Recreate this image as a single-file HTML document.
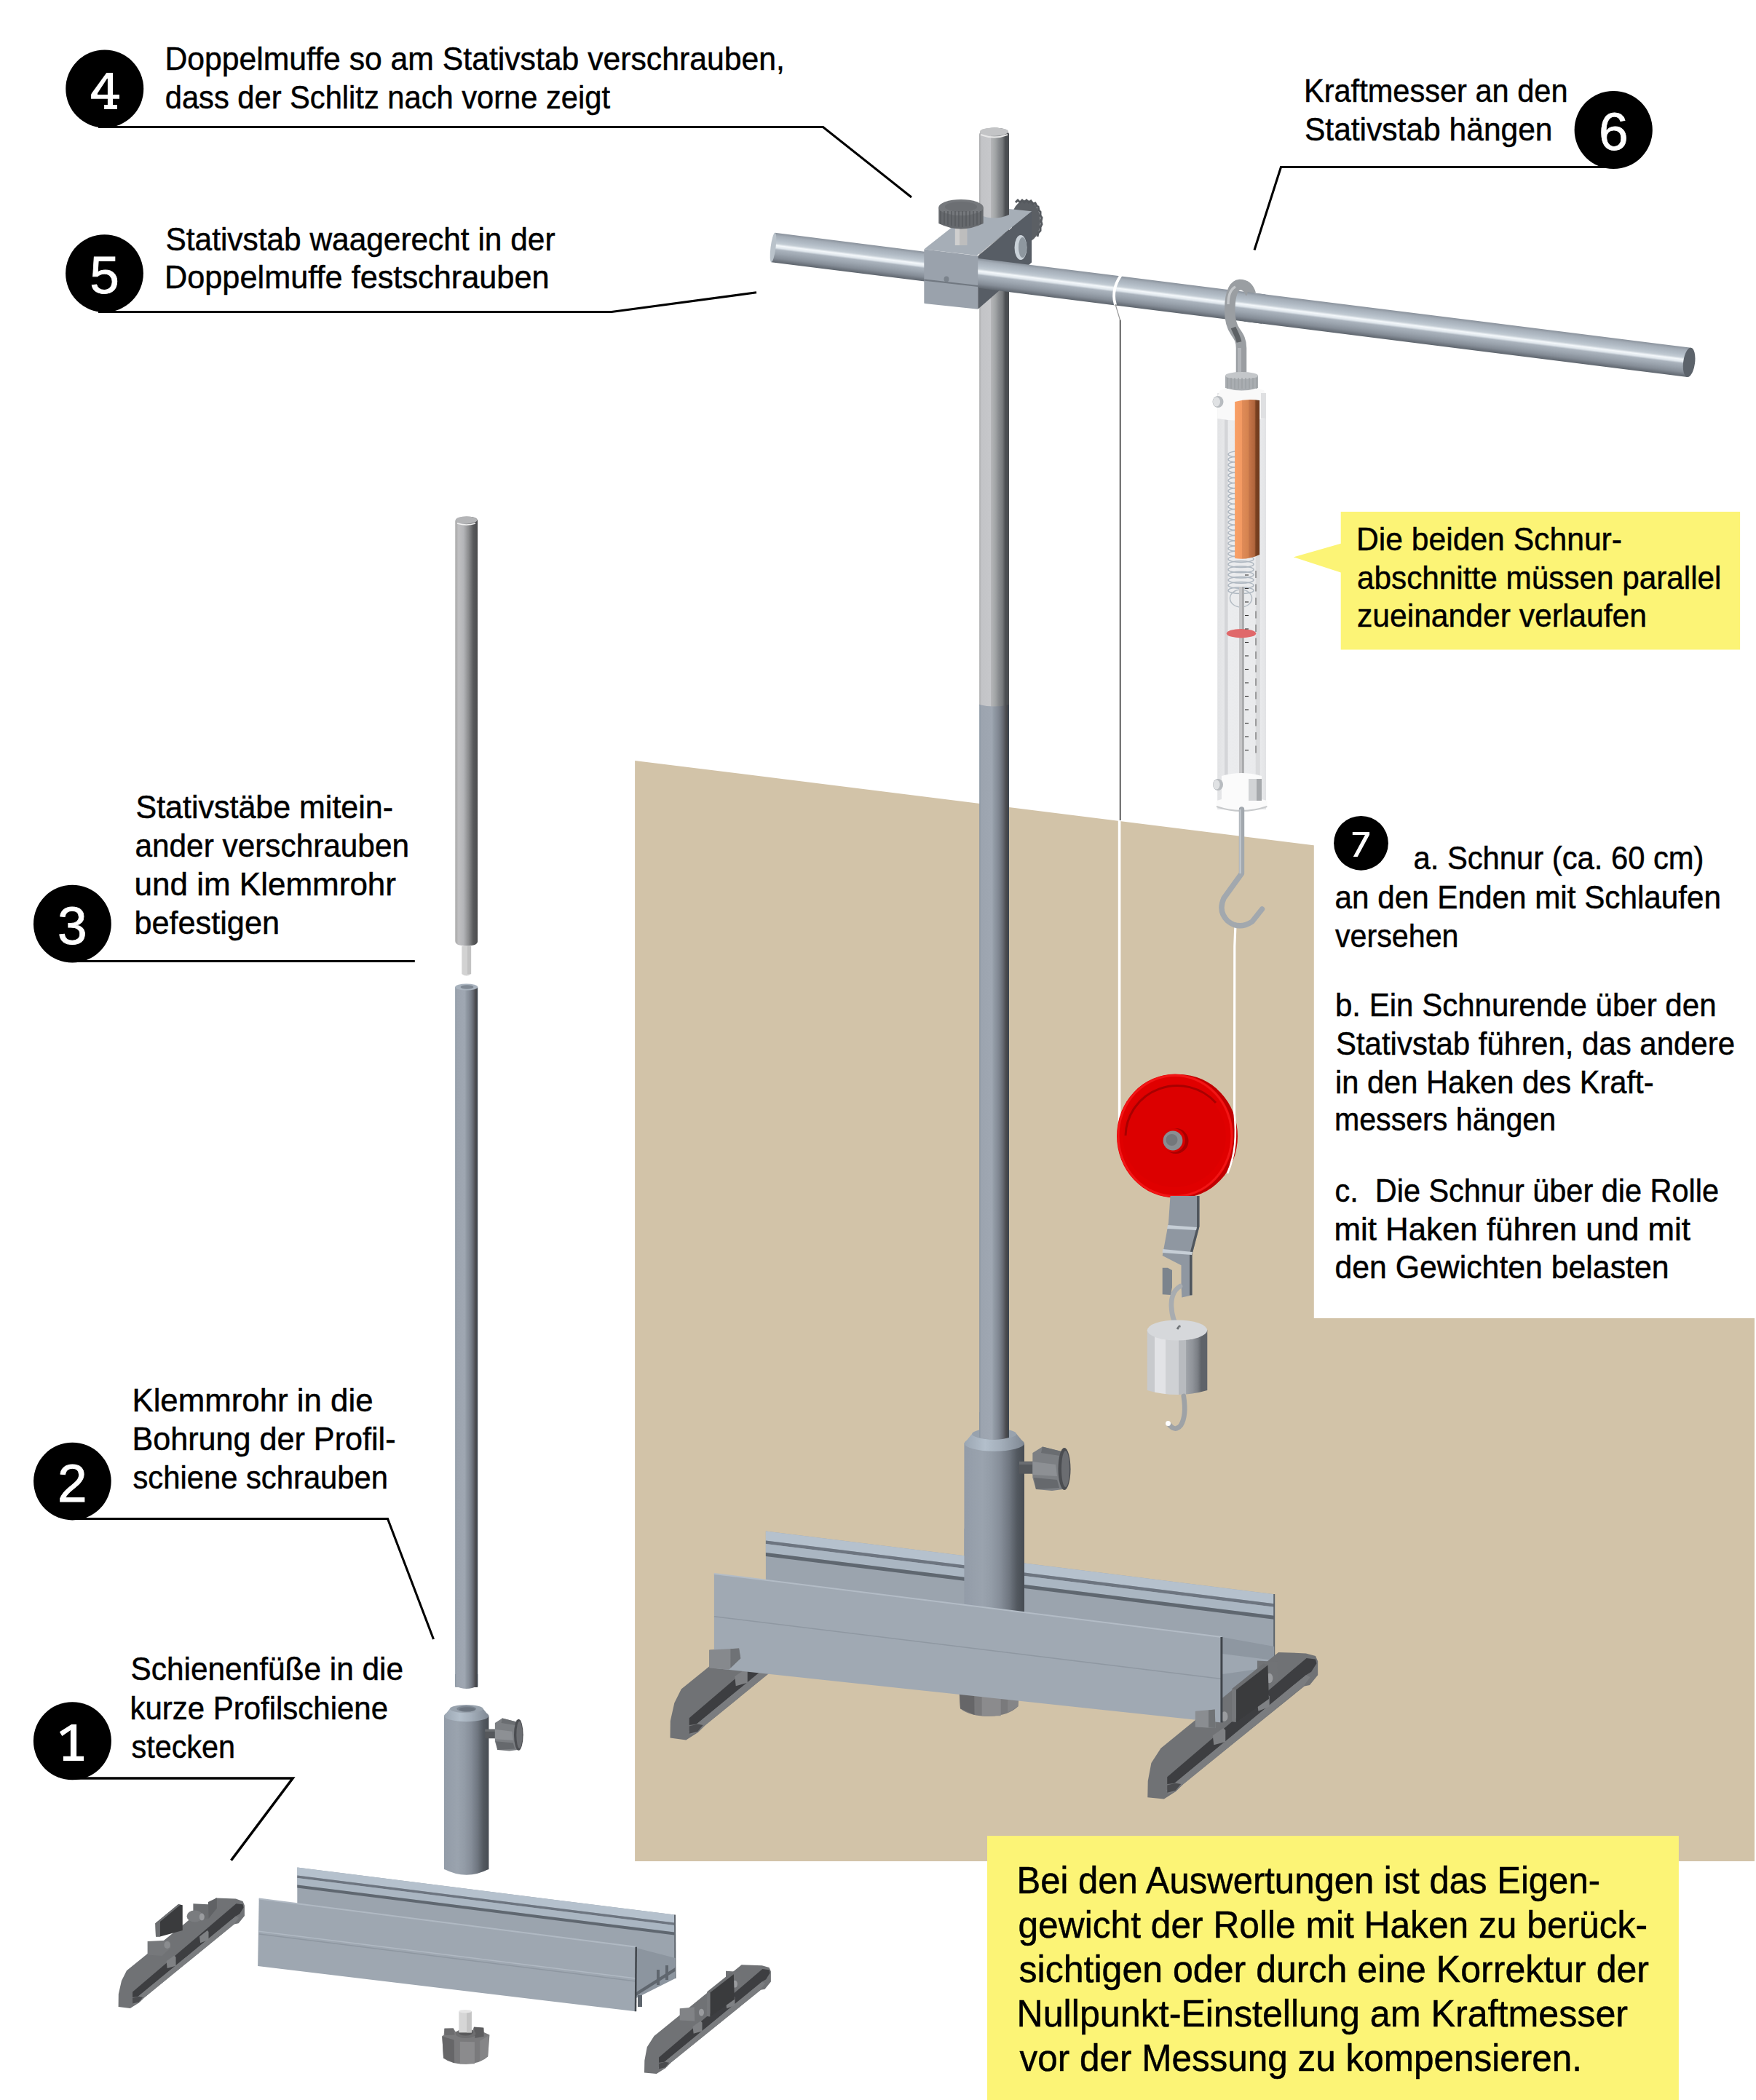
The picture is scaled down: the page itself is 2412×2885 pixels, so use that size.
<!DOCTYPE html><html><head><meta charset="utf-8"><style>html,body{margin:0;padding:0;background:#fff;overflow:hidden}svg{display:block}text{font-family:"Liberation Sans",sans-serif}text.t{stroke:#000;stroke-width:0.5px}</style></head><body>
<svg width="2412" height="2885" viewBox="0 0 2412 2885">
<rect width="2412" height="2885" fill="#fff"/>
<polygon points="872.1,1044.9 2410,1236.7 2410,2557 872.1,2557" fill="#d2c3a8"/>
<rect x="1804.8" y="1100" width="610" height="711" fill="#fff"/>
<polygon points="1841.7,703 2390.1,703 2390.1,892.4 1841.7,892.4 1841.7,786.5 1776.7,765.4 1841.7,746.8" fill="#fcf476"/>
<rect x="1356.0" y="2522.1" width="949.9" height="362.9" fill="#fcf476"/>
<defs>
<linearGradient id="gRodL" x1="0" y1="0" x2="1" y2="0">
 <stop offset="0" stop-color="#a9aaac"/><stop offset="0.07" stop-color="#c3c4c7"/><stop offset="0.38" stop-color="#c6c7ca"/>
 <stop offset="0.4" stop-color="#b4b5b7"/><stop offset="0.54" stop-color="#a2a5a6"/><stop offset="0.65" stop-color="#8a8d90"/>
 <stop offset="0.78" stop-color="#76797c"/><stop offset="0.88" stop-color="#4b4e52"/><stop offset="1" stop-color="#4b4e52"/>
</linearGradient>
<linearGradient id="gRodB" x1="0" y1="0" x2="1" y2="0">
 <stop offset="0" stop-color="#8793a0"/><stop offset="0.06" stop-color="#9ca4af"/><stop offset="0.42" stop-color="#9fa7b2"/>
 <stop offset="0.5" stop-color="#919aa4"/><stop offset="0.6" stop-color="#878e99"/><stop offset="0.7" stop-color="#787f89"/>
 <stop offset="0.8" stop-color="#646871"/><stop offset="0.88" stop-color="#4f5055"/><stop offset="0.93" stop-color="#464649"/>
 <stop offset="0.97" stop-color="#3e4650"/><stop offset="1" stop-color="#3e4650"/>
</linearGradient>
<linearGradient id="gHRod" x1="0" y1="0" x2="0" y2="1">
 <stop offset="0" stop-color="#8a929c"/><stop offset="0.1" stop-color="#a4adb7"/><stop offset="0.25" stop-color="#b4bec8"/>
 <stop offset="0.35" stop-color="#c3ccd4"/><stop offset="0.42" stop-color="#f4f8fb"/><stop offset="0.5" stop-color="#dfe6ec"/>
 <stop offset="0.56" stop-color="#aab3bd"/><stop offset="0.7" stop-color="#9aa3ad"/><stop offset="0.85" stop-color="#858d97"/>
 <stop offset="0.95" stop-color="#6b727b"/><stop offset="1" stop-color="#5f666e"/>
</linearGradient>
<linearGradient id="gULRod" x1="0" y1="0" x2="1" y2="0">
 <stop offset="0" stop-color="#a8a8a8"/><stop offset="0.15" stop-color="#c0c0c2"/><stop offset="0.37" stop-color="#b4b5b8"/>
 <stop offset="0.6" stop-color="#8a8b8d"/><stop offset="0.8" stop-color="#5a5b5d"/><stop offset="1" stop-color="#4a4a4c"/>
</linearGradient>
<linearGradient id="gTube" x1="0" y1="0" x2="1" y2="0">
 <stop offset="0" stop-color="#939ca8"/><stop offset="0.3" stop-color="#9aa3ae"/><stop offset="0.45" stop-color="#939ca7"/>
 <stop offset="0.6" stop-color="#868e99"/><stop offset="0.75" stop-color="#6f7680"/><stop offset="0.88" stop-color="#52585f"/><stop offset="1" stop-color="#474c53"/>
</linearGradient>
<linearGradient id="gOrange" x1="0" y1="0" x2="1" y2="0">
 <stop offset="0" stop-color="#f9a066"/><stop offset="0.28" stop-color="#f39a62"/><stop offset="0.3" stop-color="#e08b58"/>
 <stop offset="0.55" stop-color="#d4834f"/><stop offset="0.58" stop-color="#c47448"/><stop offset="0.8" stop-color="#b0653c"/>
 <stop offset="0.85" stop-color="#7a4020"/><stop offset="1" stop-color="#6d3a1e"/>
</linearGradient>
<linearGradient id="gScale" x1="0" y1="0" x2="1" y2="0">
 <stop offset="0" stop-color="#e2e3e5"/><stop offset="0.14" stop-color="#e6e7e9"/><stop offset="0.15" stop-color="#d4d5d8"/>
 <stop offset="0.21" stop-color="#d4d5d8"/><stop offset="0.22" stop-color="#ebecee"/><stop offset="0.78" stop-color="#e9eaec"/>
 <stop offset="0.79" stop-color="#dadbdd"/><stop offset="0.87" stop-color="#dadbdd"/><stop offset="0.88" stop-color="#e9eaec"/><stop offset="1" stop-color="#e2e3e5"/>
</linearGradient>
<linearGradient id="gWeight" x1="0" y1="0" x2="1" y2="0">
 <stop offset="0" stop-color="#c8cacd"/><stop offset="0.12" stop-color="#c8cacd"/><stop offset="0.121" stop-color="#e2e3e6"/>
 <stop offset="0.31" stop-color="#e2e3e6"/><stop offset="0.311" stop-color="#cfd1d4"/><stop offset="0.52" stop-color="#cfd1d4"/>
 <stop offset="0.521" stop-color="#b8bbbf"/><stop offset="0.65" stop-color="#b8bbbf"/><stop offset="0.651" stop-color="#9fa3a8"/>
 <stop offset="0.76" stop-color="#8f9399"/><stop offset="0.84" stop-color="#7b7f85"/><stop offset="0.9" stop-color="#5f6369"/><stop offset="1" stop-color="#5f6369"/>
</linearGradient>
<linearGradient id="gHook" x1="0" y1="0" x2="1" y2="0">
 <stop offset="0" stop-color="#8c939a"/><stop offset="0.4" stop-color="#c2c8ce"/><stop offset="1" stop-color="#7d848b"/>
</linearGradient>
<linearGradient id="gBWall" x1="0" y1="0" x2="0" y2="1">
 <stop offset="0" stop-color="#9aa3ad"/><stop offset="1" stop-color="#a2abb5"/>
</linearGradient>
<linearGradient id="gTubeTop" x1="0" y1="0" x2="1" y2="0">
 <stop offset="0" stop-color="#9ba6b2"/><stop offset="0.35" stop-color="#b3bfcb"/><stop offset="0.6" stop-color="#a4afbb"/><stop offset="1" stop-color="#7f8893"/>
</linearGradient>
</defs>
<rect x="1535.8" y="437.0" width="3.6" height="1123.0" fill="#ffffff"/>
<line x1="1538.6" y1="439.0" x2="1538.6" y2="1127.0" stroke="#111" stroke-width="1.4"/>
<path d="M1697,1270 L1695.8,1300 L1695.5,1540" fill="none" stroke="#ffffff" stroke-width="3.2"/>
<ellipse cx="1409.0" cy="304.0" rx="20.0" ry="29.0" fill="#5b5f64"/>
<path d="M1395,278 l3,-3 3,3 3,-3 3,3 3,-3 3,3 3,-2 3,4 3,-1 2,4 2,1 1,5 2,2 0,5 2,3 -1,5 1,4 -2,4 0,5 -3,3 -1,5" fill="none" stroke="#55595e" stroke-width="3"/>
<path d="M1345.2,969 L1345.2,186 Q1345.6,175.5 1365.6,175.5 Q1385.6,175.5 1386,186 L1386,969 Q1365.6,974 1345.2,969 Z" fill="url(#gRodL)"/>
<ellipse cx="1365.6" cy="181.0" rx="19.5" ry="5.5" fill="#c3c4c6"/>
<path d="M1347,185 Q1365.6,192 1384,185" fill="none" stroke="#e8e8e8" stroke-width="2"/>
<path d="M1345.2,968 Q1365.6,973 1386,968 L1386,1980 L1345.2,1980 Z" fill="url(#gRodB)"/>
<polygon points="1343.2,351.7 1417.1,290.3 1417.1,360.4 1343.2,424.8" fill="#575d65"/>
<ellipse cx="1402.0" cy="340.0" rx="8.5" ry="17.0" fill="#c9d1d8"/>
<ellipse cx="1404.5" cy="340.0" rx="5.5" ry="14.0" fill="#8e979f"/>
<g transform="translate(1062,340) rotate(7.153)"><rect x="0" y="-20.3" width="1268" height="40.6" fill="url(#gHRod)"/><ellipse cx="1268" cy="0" rx="8" ry="20.3" fill="#5c636b"/><ellipse cx="0" cy="0" rx="3.5" ry="20.3" fill="#b9c2ca"/></g>
<path d="M1542,375 Q1528,393 1530.5,412 L1532,419" fill="none" stroke="#ffffff" stroke-width="3.8"/>
<path d="M1532,418 L1538.6,440" fill="none" stroke="#9a9a9a" stroke-width="1.2"/>
<polygon points="1269.3,342.4 1342.0,351.0 1417.1,290.3 1345.0,282.8" fill="#a6aeb7"/>
<polygon points="1269.3,342.4 1343.2,351.4 1343.2,424.8 1269.3,416.8" fill="#9aa2ac"/>
<line x1="1269.3" y1="384.5" x2="1343.2" y2="393.0" stroke="#717881" stroke-width="2.2"/>
<ellipse cx="1300.0" cy="383.5" rx="3.5" ry="4.0" fill="#7b838c"/>
<path d="M1345.2,295 L1345.2,186 Q1345.6,175.5 1365.6,175.5 Q1385.6,175.5 1386,186 L1386,295 Q1365.6,304 1345.2,295 Z" fill="url(#gRodL)"/>
<ellipse cx="1365.6" cy="181.0" rx="19.5" ry="5.5" fill="#c3c4c6"/>
<path d="M1347,185 Q1365.6,192 1384,185" fill="none" stroke="#e8e8e8" stroke-width="2"/>
<rect x="1311.8" y="305.0" width="16.4" height="32.0" fill="#cfcfcf"/>
<rect x="1318.0" y="305.0" width="10.2" height="32.0" fill="#bdbdbd"/>
<path d="M1289.3,285 L1289.3,307 Q1320,322 1350.7,307 L1350.7,285 Z" fill="#66696d"/>
<ellipse cx="1320.0" cy="285.0" rx="30.7" ry="11.0" fill="#75787c"/>
<ellipse cx="1320.0" cy="284.0" rx="22.0" ry="7.0" fill="#6c6f73"/>
<line x1="1292.0" y1="290.0" x2="1292.0" y2="307.8" stroke="#55585c" stroke-width="1.3"/>
<line x1="1297.0" y1="290.0" x2="1297.0" y2="308.6" stroke="#55585c" stroke-width="1.3"/>
<line x1="1302.0" y1="290.0" x2="1302.0" y2="309.3" stroke="#55585c" stroke-width="1.3"/>
<line x1="1307.0" y1="290.0" x2="1307.0" y2="310.1" stroke="#55585c" stroke-width="1.3"/>
<line x1="1312.0" y1="290.0" x2="1312.0" y2="310.8" stroke="#55585c" stroke-width="1.3"/>
<line x1="1317.0" y1="290.0" x2="1317.0" y2="311.6" stroke="#55585c" stroke-width="1.3"/>
<line x1="1322.0" y1="290.0" x2="1322.0" y2="311.7" stroke="#55585c" stroke-width="1.3"/>
<line x1="1327.0" y1="290.0" x2="1327.0" y2="310.9" stroke="#55585c" stroke-width="1.3"/>
<line x1="1332.0" y1="290.0" x2="1332.0" y2="310.2" stroke="#55585c" stroke-width="1.3"/>
<line x1="1337.0" y1="290.0" x2="1337.0" y2="309.4" stroke="#55585c" stroke-width="1.3"/>
<line x1="1342.0" y1="290.0" x2="1342.0" y2="308.7" stroke="#55585c" stroke-width="1.3"/>
<line x1="1347.0" y1="290.0" x2="1347.0" y2="307.9" stroke="#55585c" stroke-width="1.3"/>
<path d="M1718,404 C1715,394 1709,391 1703,391 C1694,392 1689.5,405 1689.2,425 C1689,440 1692,449 1697,456 C1702,463 1705,468 1705,478 L1705,512" fill="none" stroke="#9a9ea2" stroke-width="14.5" stroke-linejoin="round"/>
<path d="M1702,470 C1700,461 1696,455 1694,450" fill="none" stroke="#5d6165" stroke-width="7"/>
<path d="M1687,418 C1687,405 1691,397 1697,394" fill="none" stroke="#c4c7ca" stroke-width="3.5"/>
<rect x="1700.0" y="478.0" width="11.0" height="34.0" fill="#b2b5b9"/>
<rect x="1705.0" y="478.0" width="6.0" height="34.0" fill="#9a9da1"/>
<g transform="translate(1062,340) rotate(7.153)"><rect x="654.1" y="-20.3" width="25" height="40.6" fill="url(#gHRod)"/></g>
<rect x="1672.2" y="540.0" width="66.8" height="572.0" fill="url(#gScale)"/>
<path d="M1676,536 Q1705,528 1736,536 L1739,545 L1739,575 Q1705,581 1672.2,575 L1672.2,545 Z" fill="#f9f9f9"/>
<rect x="1732.0" y="540.0" width="7.0" height="35.0" fill="#dfe0e2"/>
<path d="M1683,516 L1683,533 Q1705.5,540 1728,533 L1728,516 Z" fill="#a9adb1"/>
<ellipse cx="1705.5" cy="516.0" rx="22.5" ry="5.0" fill="#c4c7ca"/>
<line x1="1686.0" y1="519.0" x2="1686.0" y2="534.0" stroke="#9a9ea2" stroke-width="1.2"/>
<line x1="1691.0" y1="519.0" x2="1691.0" y2="534.0" stroke="#9a9ea2" stroke-width="1.2"/>
<line x1="1696.0" y1="519.0" x2="1696.0" y2="534.0" stroke="#9a9ea2" stroke-width="1.2"/>
<line x1="1701.0" y1="519.0" x2="1701.0" y2="534.0" stroke="#9a9ea2" stroke-width="1.2"/>
<line x1="1706.0" y1="519.0" x2="1706.0" y2="534.0" stroke="#9a9ea2" stroke-width="1.2"/>
<line x1="1711.0" y1="519.0" x2="1711.0" y2="534.0" stroke="#9a9ea2" stroke-width="1.2"/>
<line x1="1716.0" y1="519.0" x2="1716.0" y2="534.0" stroke="#9a9ea2" stroke-width="1.2"/>
<line x1="1721.0" y1="519.0" x2="1721.0" y2="534.0" stroke="#9a9ea2" stroke-width="1.2"/>
<line x1="1726.0" y1="519.0" x2="1726.0" y2="534.0" stroke="#9a9ea2" stroke-width="1.2"/>
<ellipse cx="1673.0" cy="552.0" rx="7.5" ry="8.0" fill="#b8bcc0"/>
<ellipse cx="1671.0" cy="552.0" rx="5.0" ry="6.5" fill="#e0e2e4"/>
<ellipse cx="1704.5" cy="624.0" rx="17.5" ry="4.4" fill="none" stroke="#aeb7c0" stroke-width="1.5"/>
<ellipse cx="1704.5" cy="631.2" rx="17.5" ry="4.4" fill="none" stroke="#aeb7c0" stroke-width="1.5"/>
<ellipse cx="1704.5" cy="638.4" rx="17.5" ry="4.4" fill="none" stroke="#aeb7c0" stroke-width="1.5"/>
<ellipse cx="1704.5" cy="645.6" rx="17.5" ry="4.4" fill="none" stroke="#aeb7c0" stroke-width="1.5"/>
<ellipse cx="1704.5" cy="652.8" rx="17.5" ry="4.4" fill="none" stroke="#aeb7c0" stroke-width="1.5"/>
<ellipse cx="1704.5" cy="660.0" rx="17.5" ry="4.4" fill="none" stroke="#aeb7c0" stroke-width="1.5"/>
<ellipse cx="1704.5" cy="667.2" rx="17.5" ry="4.4" fill="none" stroke="#aeb7c0" stroke-width="1.5"/>
<ellipse cx="1704.5" cy="674.4" rx="17.5" ry="4.4" fill="none" stroke="#aeb7c0" stroke-width="1.5"/>
<ellipse cx="1704.5" cy="681.6" rx="17.5" ry="4.4" fill="none" stroke="#aeb7c0" stroke-width="1.5"/>
<ellipse cx="1704.5" cy="688.8" rx="17.5" ry="4.4" fill="none" stroke="#aeb7c0" stroke-width="1.5"/>
<ellipse cx="1704.5" cy="696.0" rx="17.5" ry="4.4" fill="none" stroke="#aeb7c0" stroke-width="1.5"/>
<ellipse cx="1704.5" cy="703.2" rx="17.5" ry="4.4" fill="none" stroke="#aeb7c0" stroke-width="1.5"/>
<ellipse cx="1704.5" cy="710.4" rx="17.5" ry="4.4" fill="none" stroke="#aeb7c0" stroke-width="1.5"/>
<ellipse cx="1704.5" cy="717.6" rx="17.5" ry="4.4" fill="none" stroke="#aeb7c0" stroke-width="1.5"/>
<ellipse cx="1704.5" cy="724.8" rx="17.5" ry="4.4" fill="none" stroke="#aeb7c0" stroke-width="1.5"/>
<ellipse cx="1704.5" cy="732.0" rx="17.5" ry="4.4" fill="none" stroke="#aeb7c0" stroke-width="1.5"/>
<ellipse cx="1704.5" cy="739.2" rx="17.5" ry="4.4" fill="none" stroke="#aeb7c0" stroke-width="1.5"/>
<ellipse cx="1704.5" cy="746.4" rx="17.5" ry="4.4" fill="none" stroke="#aeb7c0" stroke-width="1.5"/>
<ellipse cx="1704.5" cy="753.6" rx="17.5" ry="4.4" fill="none" stroke="#aeb7c0" stroke-width="1.5"/>
<ellipse cx="1704.5" cy="760.8" rx="17.5" ry="4.4" fill="none" stroke="#aeb7c0" stroke-width="1.5"/>
<ellipse cx="1704.5" cy="768.0" rx="17.5" ry="4.4" fill="none" stroke="#aeb7c0" stroke-width="1.5"/>
<ellipse cx="1704.5" cy="775.2" rx="17.5" ry="4.4" fill="none" stroke="#aeb7c0" stroke-width="1.5"/>
<ellipse cx="1704.5" cy="782.4" rx="17.5" ry="4.4" fill="none" stroke="#aeb7c0" stroke-width="1.5"/>
<ellipse cx="1704.5" cy="789.6" rx="17.5" ry="4.4" fill="none" stroke="#aeb7c0" stroke-width="1.5"/>
<ellipse cx="1704.5" cy="796.8" rx="17.5" ry="4.4" fill="none" stroke="#aeb7c0" stroke-width="1.5"/>
<ellipse cx="1704.5" cy="804.0" rx="17.5" ry="4.4" fill="none" stroke="#aeb7c0" stroke-width="1.5"/>
<ellipse cx="1704.5" cy="811.2" rx="17.5" ry="4.4" fill="none" stroke="#aeb7c0" stroke-width="1.5"/>
<ellipse cx="1704.5" cy="822.0" rx="15.0" ry="12.0" fill="none" stroke="#b4bcc4" stroke-width="1.5"/>
<path d="M1696.1,552 Q1713,547 1730.1,550 L1730.1,762 Q1713,770 1696.1,767 Z" fill="url(#gOrange)"/>
<rect x="1702.0" y="806.0" width="6.7" height="259.0" fill="#c6c6c8"/>
<rect x="1706.0" y="806.0" width="2.7" height="259.0" fill="#a9aaac"/>
<ellipse cx="1705.0" cy="870.2" rx="20.2" ry="6.2" fill="#e0686a"/>
<line x1="1710.0" y1="790.0" x2="1715.0" y2="790.0" stroke="#333" stroke-width="1.1"/>
<line x1="1725.0" y1="784.0" x2="1725.0" y2="794.0" stroke="#555" stroke-width="1.0"/>
<line x1="1710.0" y1="808.5" x2="1715.0" y2="808.5" stroke="#333" stroke-width="1.1"/>
<line x1="1725.0" y1="802.5" x2="1725.0" y2="812.5" stroke="#555" stroke-width="1.0"/>
<line x1="1710.0" y1="827.0" x2="1715.0" y2="827.0" stroke="#333" stroke-width="1.1"/>
<line x1="1725.0" y1="821.0" x2="1725.0" y2="831.0" stroke="#555" stroke-width="1.0"/>
<line x1="1710.0" y1="845.5" x2="1715.0" y2="845.5" stroke="#333" stroke-width="1.1"/>
<line x1="1725.0" y1="839.5" x2="1725.0" y2="849.5" stroke="#555" stroke-width="1.0"/>
<line x1="1710.0" y1="864.0" x2="1715.0" y2="864.0" stroke="#333" stroke-width="1.1"/>
<line x1="1725.0" y1="858.0" x2="1725.0" y2="868.0" stroke="#555" stroke-width="1.0"/>
<line x1="1710.0" y1="882.5" x2="1715.0" y2="882.5" stroke="#333" stroke-width="1.1"/>
<line x1="1725.0" y1="876.5" x2="1725.0" y2="886.5" stroke="#555" stroke-width="1.0"/>
<line x1="1710.0" y1="901.0" x2="1715.0" y2="901.0" stroke="#333" stroke-width="1.1"/>
<line x1="1725.0" y1="895.0" x2="1725.0" y2="905.0" stroke="#555" stroke-width="1.0"/>
<line x1="1710.0" y1="919.5" x2="1715.0" y2="919.5" stroke="#333" stroke-width="1.1"/>
<line x1="1725.0" y1="913.5" x2="1725.0" y2="923.5" stroke="#555" stroke-width="1.0"/>
<line x1="1710.0" y1="938.0" x2="1715.0" y2="938.0" stroke="#333" stroke-width="1.1"/>
<line x1="1725.0" y1="932.0" x2="1725.0" y2="942.0" stroke="#555" stroke-width="1.0"/>
<line x1="1710.0" y1="956.5" x2="1715.0" y2="956.5" stroke="#333" stroke-width="1.1"/>
<line x1="1725.0" y1="950.5" x2="1725.0" y2="960.5" stroke="#555" stroke-width="1.0"/>
<line x1="1710.0" y1="975.0" x2="1715.0" y2="975.0" stroke="#333" stroke-width="1.1"/>
<line x1="1725.0" y1="969.0" x2="1725.0" y2="979.0" stroke="#555" stroke-width="1.0"/>
<line x1="1710.0" y1="993.5" x2="1715.0" y2="993.5" stroke="#333" stroke-width="1.1"/>
<line x1="1725.0" y1="987.5" x2="1725.0" y2="997.5" stroke="#555" stroke-width="1.0"/>
<line x1="1710.0" y1="1012.0" x2="1715.0" y2="1012.0" stroke="#333" stroke-width="1.1"/>
<line x1="1725.0" y1="1006.0" x2="1725.0" y2="1016.0" stroke="#555" stroke-width="1.0"/>
<line x1="1710.0" y1="1030.5" x2="1715.0" y2="1030.5" stroke="#333" stroke-width="1.1"/>
<line x1="1725.0" y1="1024.5" x2="1725.0" y2="1034.5" stroke="#555" stroke-width="1.0"/>
<path d="M1678,1066 Q1705,1058 1733,1066 L1733,1098 L1740.4,1100 L1740.4,1108 Q1705,1120 1671,1108 L1671,1100 L1678,1098 Z" fill="#fbfbfb"/>
<rect x="1715.0" y="1070.0" width="18.0" height="30.0" fill="#d2d4d6"/>
<rect x="1726.0" y="1070.0" width="7.0" height="30.0" fill="#a6a9ac"/>
<path d="M1671,1108 Q1705,1120 1740.4,1108" fill="none" stroke="#c8cacc" stroke-width="2"/>
<ellipse cx="1673.0" cy="1078.0" rx="7.0" ry="8.0" fill="#b8bcc0"/>
<ellipse cx="1671.0" cy="1078.0" rx="4.5" ry="6.5" fill="#e0e2e4"/>
<path d="M1705.5,1112 L1705.5,1200 L1681,1234 Q1673,1252 1686,1265 Q1702,1278 1720,1266 L1733.5,1249" fill="none" stroke="#a2a8ae" stroke-width="7.4" stroke-linecap="round" stroke-linejoin="round"/>
<path d="M1703.5,1112 L1703.5,1200" fill="none" stroke="#c6ccd2" stroke-width="2"/>
<ellipse cx="1620.0" cy="1561.0" rx="80.0" ry="85.0" fill="#c00000"/>
<ellipse cx="1614.0" cy="1560.5" rx="80.0" ry="85.0" fill="#e00000"/>
<ellipse cx="1614.0" cy="1560.5" rx="78.0" ry="83.0" fill="none" stroke="#f21515" stroke-width="3"/>
<ellipse cx="1613.0" cy="1561.0" rx="71.0" ry="70.0" fill="#dc0000"/>
<path d="M1546,1560 A71,70 0 0 1 1670,1515" fill="none" stroke="#a80000" stroke-width="3"/>
<ellipse cx="1615.0" cy="1567.5" rx="17.5" ry="17.5" fill="#a80000"/>
<ellipse cx="1611.5" cy="1566.5" rx="16.5" ry="16.5" fill="#d80000"/>
<ellipse cx="1611.0" cy="1567.0" rx="13.4" ry="13.4" fill="#8a8e92"/>
<ellipse cx="1609.5" cy="1566.0" rx="8.0" ry="8.0" fill="#74777b"/>
<path d="M1695.5,1528 C1698.5,1560 1697.5,1585 1686,1612" fill="none" stroke="#ffffff" stroke-width="2.6"/>
<polygon points="1607.5,1643.0 1647.5,1643.0 1647.5,1685.0 1637.5,1723.3 1637.5,1779.2 1623.3,1782.5 1622.5,1765.0 1622.5,1738.3 1596.7,1725.0 1605.0,1680.0" fill="#8f97a1"/>
<polygon points="1644.0,1643.0 1647.5,1643.0 1647.5,1685.0 1637.5,1723.3 1637.5,1779.2 1634.0,1779.2 1634.0,1723.3 1644.0,1685.0" fill="#50565d"/>
<polygon points="1604.0,1683.0 1644.0,1686.0 1643.0,1690.0 1603.0,1688.0" fill="#c6ced6"/>
<polygon points="1597.0,1716.0 1638.0,1720.0 1637.0,1724.0 1596.7,1721.0" fill="#c6ced6"/>
<polygon points="1596.7,1741.7 1604.0,1741.7 1610.0,1745.0 1610.0,1768.3 1608.0,1779.0 1596.7,1778.3" fill="#7c848d"/>
<path d="M1621,1767 Q1608,1775 1609,1795 Q1610,1815 1619,1824" fill="none" stroke="#a8acb0" stroke-width="6.7" stroke-linecap="round"/>
<path d="M1575.8,1827 L1575.8,1910 Q1617,1922 1658.3,1910 L1658.3,1827 Z" fill="url(#gWeight)"/>
<ellipse cx="1617.0" cy="1827.5" rx="41.2" ry="14.0" fill="#d6d8db"/>
<path d="M1617,1826 Q1621,1820 1620,1823" fill="none" stroke="#6e7276" stroke-width="3"/>
<path d="M1625.8,1918 Q1630,1945 1622,1958 Q1614,1968 1605,1956" fill="none" stroke="#9ea2a6" stroke-width="6.7" stroke-linecap="round"/>
<ellipse cx="1604.5" cy="1955.5" rx="3.5" ry="3.5" fill="#ffffff"/>
<rect x="1324.4" y="1983.0" width="82.6" height="233.0" fill="url(#gTube)"/><ellipse cx="1365.7" cy="1983" rx="41.3" ry="10.7" fill="url(#gTubeTop)"/><path d="M1324.4,1983 L1335,1970 L1396.4,1970 L1407,1983 Z" fill="url(#gTubeTop)"/><ellipse cx="1365.7" cy="1970.0" rx="30.7" ry="7.5" fill="#98a2ad"/><path d="M1345.2,1975 Q1365.6,1981 1386,1975 L1386,1940 L1345.2,1940 Z" fill="url(#gRodB)"/><rect x="1400.0" y="2007.8" width="21.3" height="16.9" fill="#55585c"/><rect x="1400.0" y="2007.8" width="21.3" height="4.2" fill="#6a6d71"/><polygon points="1418.4,1996.0 1432.0,1987.4 1458.0,1994.0 1466.0,2004.0 1470.2,2018.0 1468.0,2034.0 1460.0,2046.0 1445.0,2048.0 1423.0,2046.0 1418.4,2030.0" fill="#7c7f83"/><polygon points="1418.4,2008.0 1450.0,2012.0 1452.0,2028.0 1418.4,2026.0" fill="#8d9094"/><polygon points="1420.0,2030.0 1452.0,2033.0 1455.0,2044.0 1423.0,2046.0" fill="#66696d"/><polygon points="1432.0,1987.4 1458.0,1994.0 1456.0,2000.0 1430.0,1996.0" fill="#6a6d71"/><ellipse cx="1462.0" cy="2018.0" rx="8.5" ry="29.0" fill="#4b4d51"/><ellipse cx="1463.5" cy="2018.0" rx="5.5" ry="25.0" fill="#6b6d71"/>
<g transform="translate(1307.19,2246.52) scale(1.3)"><path d="M7.29,46.92 L9.11,77.45 Q19.13,85.65 40.09,85.65 Q60.59,84.74 70.16,75.17 L72.44,45.56 L64.69,41.91 L64.24,35.54 L51.03,34.62 L49.20,39.18 L25.51,41.00 L22.78,36.45 L10.48,36.45 L9.57,46.01 Z" fill="#7a7a7c"/><polygon points="7.29,47.38 23.69,52.39 24.15,84.28 9.11,77.45" fill="#666668"/><polygon points="31.89,54.67 51.94,55.13 51.94,85.19 31.89,85.42" fill="#8b8b8d"/><polygon points="59.23,53.76 71.07,46.47 70.16,75.17 59.23,82.00" fill="#858587"/><polygon points="10.48,36.90 22.78,36.45 24.60,45.56 11.39,46.01" fill="#6c6c6e"/><polygon points="51.03,35.08 64.24,35.99 64.69,47.84 52.39,50.11" fill="#5d5d5f"/><ellipse cx="39.64" cy="43.74" rx="13.67" ry="6.38" fill="#6e6e70"/><ellipse cx="39.64" cy="42.37" rx="10.02" ry="4.10" fill="#5a5a5c"/></g>
<polygon points="1051.9,2103.5 1750.2,2190.2 1750.2,2290.0 1051.9,2210.0" fill="#9ba4ae"/>
<polygon points="1051.9,2103.5 1750.2,2190.2 1750.2,2203.2 1051.9,2116.5" fill="#b5c1cd"/>
<polygon points="1051.9,2116.5 1750.2,2203.2 1750.2,2207.7 1051.9,2121.0" fill="#6d7580"/>
<polygon points="1051.9,2121.0 1750.2,2207.7 1750.2,2219.7 1051.9,2133.0" fill="#aab6c2"/>
<polygon points="1051.9,2133.0 1750.2,2219.7 1750.2,2224.7 1051.9,2138.0" fill="#5f6770"/>
<line x1="1750.2" y1="2190.0" x2="1750.2" y2="2290.0" stroke="#5c636b" stroke-width="2"/>
<rect x="1324.4" y="2100.0" width="82.6" height="116.0" fill="url(#gTube)"/>
<polygon points="1677.9,2249.0 1750.2,2262.0 1750.2,2290.0 1700.0,2345.0 1677.9,2366.5" fill="#8e97a1"/>
<polygon points="1679.0,2272.0 1750.2,2281.0 1750.2,2290.0 1679.0,2300.0" fill="#9ea7b1"/>
<g transform="translate(1576.3,2469.3) scale(1.345)"><polygon points="0.00,0.00 0.32,-16.77 3.79,-35.17 13.53,-50.31 133.63,-148.24 161.76,-147.15 171.50,-144.45 173.88,-139.04 173.88,-124.97 165.55,-114.69 160.14,-113.61 36.25,-13.53 28.67,-5.95 16.77,1.62" fill="#707275"/><polygon points="20.02,-20.88 162.30,-142.29 171.50,-141.20 172.58,-136.88 167.17,-128.22 161.76,-124.97 27.59,-14.61 20.02,-13.53" fill="#3d3e41"/><polygon points="27.59,-14.61 161.76,-124.97 166.09,-122.81 159.60,-113.94 36.25,-13.31 28.67,-5.95 21.10,-3.79 18.94,-7.03" fill="#7a7c7f"/><polygon points="20.02,-12.44 28.67,-14.61 34.08,-13.53 28.67,-7.03 20.02,-4.87" fill="#4a4b4e"/><polygon points="66.54,-63.30 77.36,-70.87 79.53,-68.71 79.53,-56.81 67.63,-53.56" fill="#7f8184"/><polygon points="111.99,-96.84 122.81,-105.50 124.43,-103.33 124.43,-92.51 113.07,-88.18" fill="#7f8184"/><polygon points="48.69,-88.18 68.71,-89.81 69.25,-70.87 48.69,-71.95" fill="#818386"/><ellipse cx="78.45" cy="-82.77" rx="3.5" ry="5" fill="#9a9c9f"/><polygon points="111.99,-139.58 132.55,-138.50 133.09,-118.48 123.89,-116.32 111.99,-121.73" fill="#717376"/><ellipse cx="124.43" cy="-121.73" rx="3.5" ry="5" fill="#9a9c9f"/><polygon points="86.02,-110.91 118.48,-136.88 122.81,-135.25 90.35,-109.82" fill="#6c6e71"/><polygon points="90.35,-109.82 122.81,-135.25 123.89,-100.63 90.35,-76.82" fill="#3a3b3d"/><polygon points="86.02,-110.91 90.35,-109.82 90.35,-76.82 86.02,-77.36" fill="#76787b"/></g>
<g transform="translate(920.5,2387.5) scale(1.345)"><polygon points="0.00,0.00 0.22,-17.31 4.33,-35.71 11.36,-49.77 134.17,-149.32 161.22,-148.45 170.96,-144.99 173.34,-139.04 173.34,-124.97 165.01,-114.69 159.06,-113.40 35.71,-12.77 28.13,-5.41 16.23,2.16" fill="#707275"/><polygon points="19.48,-20.34 161.76,-141.74 170.96,-140.66 172.04,-136.33 166.63,-127.68 161.22,-124.43 27.05,-14.07 19.48,-12.98" fill="#3d3e41"/><polygon points="27.05,-14.07 161.22,-124.43 165.55,-122.27 159.06,-113.40 35.71,-12.77 28.13,-5.41 20.56,-3.25 18.39,-6.49" fill="#7a7c7f"/><polygon points="19.48,-11.90 28.13,-14.07 33.54,-12.98 28.13,-6.49 19.48,-4.33" fill="#4a4b4e"/><polygon points="66.00,-62.76 76.82,-70.33 78.99,-68.17 78.99,-56.26 67.09,-53.02" fill="#7f8184"/><polygon points="111.45,-96.30 122.27,-104.96 123.89,-102.79 123.89,-91.97 112.53,-87.64" fill="#7f8184"/><polygon points="50.85,-114.69 82.23,-140.66 88.18,-139.58 88.18,-104.96 57.35,-96.30 51.40,-96.30" fill="#3a3b3d"/><polygon points="50.85,-114.69 82.23,-140.66 85.48,-140.45 57.35,-116.86 57.35,-96.30 51.40,-96.30" fill="#6c6e71"/><polygon points="40.03,-89.81 70.33,-91.43 71.95,-81.15 60.05,-69.79 40.03,-71.41" fill="#76787b"/><ellipse cx="67.09" cy="-84.94" rx="4.3" ry="5" fill="#8a8c8f"/><polygon points="102.79,-141.74 123.35,-140.66 123.89,-121.19 102.79,-120.64" fill="#6b6d70"/><polygon points="123.35,-143.91 135.25,-149.53 135.25,-135.25 123.89,-121.19" fill="#606265"/><ellipse cx="104.96" cy="-124.43" rx="11" ry="8" fill="#7a7c7f"/><ellipse cx="114.69" cy="-123.35" rx="3.5" ry="5" fill="#9a9c9f"/></g>
<polygon points="980.9,2161.9 1677.9,2249.0 1677.9,2366.5 980.9,2291.7" fill="#a0a9b3"/>
<line x1="980.9" y1="2161.9" x2="1677.9" y2="2249.0" stroke="#b3bcc6" stroke-width="2"/>
<line x1="980.9" y1="2220.7" x2="1677.9" y2="2306.5" stroke="#8f98a2" stroke-width="1.5"/>
<line x1="1677.9" y1="2249.0" x2="1677.9" y2="2366.5" stroke="#40454b" stroke-width="3"/>
<g transform="translate(920.5,2387.5) scale(1.345)"><polygon points="40.03,-89.81 70.33,-91.43 71.95,-81.15 60.05,-69.79 40.03,-71.41" fill="#86898d"/><polygon points="61.67,-90.89 70.33,-91.43 71.95,-81.15 61.67,-71.41" fill="#6f7276"/></g>
<g transform="translate(1576.3,2469.3) scale(1.345)"><polygon points="48.69,-88.18 68.71,-89.81 69.25,-70.87 48.69,-71.95" fill="#8a8d91"/><polygon points="62.22,-89.05 68.71,-89.81 69.25,-70.87 62.22,-71.41" fill="#707376"/></g>
<path d="M625.3,1293 L625.3,716 Q625.5,709.4 640.7,709.4 Q656,709.4 656.1,716 L656.1,1293 Q656,1299.5 640.7,1299.5 Q625.5,1299.5 625.3,1293 Z" fill="url(#gULRod)"/>
<ellipse cx="640.7" cy="714.5" rx="14.5" ry="5.0" fill="#b4b5b7"/>
<path d="M628,719 Q640.7,723 653,719" fill="none" stroke="#f2f2f2" stroke-width="1.6"/>
<path d="M634.3,1300 L634.3,1338 Q640.7,1343 647.1,1338 L647.1,1300 Z" fill="#d2d2d2"/>
<rect x="642.0" y="1300.0" width="5.1" height="38.0" fill="#c2c2c2"/>
<rect x="625.2" y="1356.0" width="31.0" height="962.0" fill="url(#gRodB)"/>
<path d="M625.2,2316 Q640.7,2324 656.2,2316 L656.2,2300 L625.2,2300 Z" fill="url(#gRodB)"/>
<ellipse cx="640.7" cy="1356.0" rx="15.5" ry="4.5" fill="#a9b3be"/>
<ellipse cx="641.5" cy="1356.0" rx="9.0" ry="2.8" fill="#7f8893"/>
<g transform="translate(610,2342) scale(0.74349) translate(-1324.4,-1962.5)"><rect x="1324.4" y="1983.0" width="82.6" height="283.7" fill="url(#gTube)"/><path d="M1324.4,2266.23 Q1365.7,2287.73 1407,2266.23 Z" fill="url(#gTube)"/><ellipse cx="1365.7" cy="1983" rx="41.3" ry="10.7" fill="url(#gTubeTop)"/><path d="M1324.4,1983 L1335,1970 L1396.4,1970 L1407,1983 Z" fill="url(#gTubeTop)"/><ellipse cx="1365.7" cy="1970.0" rx="30.7" ry="7.5" fill="#98a2ad"/><ellipse cx="1365.7" cy="1970.0" rx="18.0" ry="5.5" fill="#7d8792"/><ellipse cx="1367.0" cy="1971.0" rx="15.0" ry="4.0" fill="#6c7580"/><rect x="1400.0" y="2007.8" width="21.3" height="16.9" fill="#55585c"/><rect x="1400.0" y="2007.8" width="21.3" height="4.2" fill="#6a6d71"/><polygon points="1418.4,1996.0 1432.0,1987.4 1458.0,1994.0 1466.0,2004.0 1470.2,2018.0 1468.0,2034.0 1460.0,2046.0 1445.0,2048.0 1423.0,2046.0 1418.4,2030.0" fill="#7c7f83"/><polygon points="1418.4,2008.0 1450.0,2012.0 1452.0,2028.0 1418.4,2026.0" fill="#8d9094"/><polygon points="1420.0,2030.0 1452.0,2033.0 1455.0,2044.0 1423.0,2046.0" fill="#66696d"/><polygon points="1432.0,1987.4 1458.0,1994.0 1456.0,2000.0 1430.0,1996.0" fill="#6a6d71"/><ellipse cx="1462.0" cy="2018.0" rx="8.5" ry="29.0" fill="#4b4d51"/><ellipse cx="1463.5" cy="2018.0" rx="5.5" ry="25.0" fill="#6b6d71"/></g>
<polygon points="408.3,2565.5 926.4,2630.6 927.5,2717.9 408.3,2660.0" fill="#9ba4ae"/>
<polygon points="408.3,2565.5 926.4,2630.6 926.4,2641.6 408.3,2576.5" fill="#b5c1cd"/>
<polygon points="408.3,2576.5 926.4,2641.6 926.4,2645.1 408.3,2580.0" fill="#6d7580"/>
<polygon points="408.3,2580.0 926.4,2645.1 926.4,2654.6 408.3,2589.5" fill="#aab6c2"/>
<polygon points="408.3,2589.5 926.4,2654.6 926.4,2658.6 408.3,2593.5" fill="#5f6770"/>
<line x1="927.0" y1="2630.6" x2="927.5" y2="2717.9" stroke="#5c636b" stroke-width="2"/>
<polygon points="873.7,2676.0 927.5,2690.0 927.5,2718.0 873.7,2745.0" fill="#8c959f"/>
<polygon points="873.7,2737.0 927.5,2703.0 927.5,2708.0 873.7,2742.0" fill="#5f666e"/>
<rect x="902.0" y="2706.0" width="4.0" height="21.0" fill="#5f666e"/>
<rect x="914.0" y="2700.0" width="4.0" height="20.0" fill="#5f666e"/>
<rect x="876.0" y="2741.0" width="6.0" height="16.0" fill="#5f666e"/>
<polygon points="355.7,2608.6 873.7,2674.8 873.0,2763.3 354.1,2701.0" fill="#9ea7b1"/>
<line x1="355.7" y1="2608.6" x2="873.7" y2="2674.8" stroke="#b0b9c3" stroke-width="2"/>
<line x1="355.7" y1="2653.2" x2="873.7" y2="2718.0" stroke="#b0b9c3" stroke-width="1.5"/>
<line x1="355.7" y1="2657.0" x2="873.7" y2="2722.0" stroke="#8e97a1" stroke-width="1.5"/>
<line x1="873.7" y1="2674.8" x2="873.0" y2="2763.3" stroke="#40454b" stroke-width="2.5"/>
<g transform="translate(162.6,2756.9) scale(1.0)"><polygon points="0.00,0.00 0.22,-17.31 4.33,-35.71 11.36,-49.77 134.17,-149.32 161.22,-148.45 170.96,-144.99 173.34,-139.04 173.34,-124.97 165.01,-114.69 159.06,-113.40 35.71,-12.77 28.13,-5.41 16.23,2.16" fill="#707275"/><polygon points="19.48,-20.34 161.76,-141.74 170.96,-140.66 172.04,-136.33 166.63,-127.68 161.22,-124.43 27.05,-14.07 19.48,-12.98" fill="#3d3e41"/><polygon points="27.05,-14.07 161.22,-124.43 165.55,-122.27 159.06,-113.40 35.71,-12.77 28.13,-5.41 20.56,-3.25 18.39,-6.49" fill="#7a7c7f"/><polygon points="19.48,-11.90 28.13,-14.07 33.54,-12.98 28.13,-6.49 19.48,-4.33" fill="#4a4b4e"/><polygon points="66.00,-62.76 76.82,-70.33 78.99,-68.17 78.99,-56.26 67.09,-53.02" fill="#7f8184"/><polygon points="111.45,-96.30 122.27,-104.96 123.89,-102.79 123.89,-91.97 112.53,-87.64" fill="#7f8184"/><polygon points="50.85,-114.69 82.23,-140.66 88.18,-139.58 88.18,-104.96 57.35,-96.30 51.40,-96.30" fill="#3a3b3d"/><polygon points="50.85,-114.69 82.23,-140.66 85.48,-140.45 57.35,-116.86 57.35,-96.30 51.40,-96.30" fill="#6c6e71"/><polygon points="40.03,-89.81 70.33,-91.43 71.95,-81.15 60.05,-69.79 40.03,-71.41" fill="#76787b"/><ellipse cx="67.09" cy="-84.94" rx="4.3" ry="5" fill="#8a8c8f"/><polygon points="102.79,-141.74 123.35,-140.66 123.89,-121.19 102.79,-120.64" fill="#6b6d70"/><polygon points="123.35,-143.91 135.25,-149.53 135.25,-135.25 123.89,-121.19" fill="#606265"/><ellipse cx="104.96" cy="-124.43" rx="11" ry="8" fill="#7a7c7f"/><ellipse cx="114.69" cy="-123.35" rx="3.5" ry="5" fill="#9a9c9f"/></g>
<g transform="translate(885,2847.4) scale(1.0)"><polygon points="0.00,0.00 0.32,-16.77 3.79,-35.17 13.53,-50.31 133.63,-148.24 161.76,-147.15 171.50,-144.45 173.88,-139.04 173.88,-124.97 165.55,-114.69 160.14,-113.61 36.25,-13.53 28.67,-5.95 16.77,1.62" fill="#707275"/><polygon points="20.02,-20.88 162.30,-142.29 171.50,-141.20 172.58,-136.88 167.17,-128.22 161.76,-124.97 27.59,-14.61 20.02,-13.53" fill="#3d3e41"/><polygon points="27.59,-14.61 161.76,-124.97 166.09,-122.81 159.60,-113.94 36.25,-13.31 28.67,-5.95 21.10,-3.79 18.94,-7.03" fill="#7a7c7f"/><polygon points="20.02,-12.44 28.67,-14.61 34.08,-13.53 28.67,-7.03 20.02,-4.87" fill="#4a4b4e"/><polygon points="66.54,-63.30 77.36,-70.87 79.53,-68.71 79.53,-56.81 67.63,-53.56" fill="#7f8184"/><polygon points="111.99,-96.84 122.81,-105.50 124.43,-103.33 124.43,-92.51 113.07,-88.18" fill="#7f8184"/><polygon points="48.69,-88.18 68.71,-89.81 69.25,-70.87 48.69,-71.95" fill="#818386"/><ellipse cx="78.45" cy="-82.77" rx="3.5" ry="5" fill="#9a9c9f"/><polygon points="111.99,-139.58 132.55,-138.50 133.09,-118.48 123.89,-116.32 111.99,-121.73" fill="#717376"/><ellipse cx="124.43" cy="-121.73" rx="3.5" ry="5" fill="#9a9c9f"/><polygon points="86.02,-110.91 118.48,-136.88 122.81,-135.25 90.35,-109.82" fill="#6c6e71"/><polygon points="90.35,-109.82 122.81,-135.25 123.89,-100.63 90.35,-76.82" fill="#3a3b3d"/><polygon points="86.02,-110.91 90.35,-109.82 90.35,-76.82 86.02,-77.36" fill="#76787b"/></g>
<g transform="translate(600,2750) scale(1.0)"><path d="M7.29,46.92 L9.11,77.45 Q19.13,85.65 40.09,85.65 Q60.59,84.74 70.16,75.17 L72.44,45.56 L64.69,41.91 L64.24,35.54 L51.03,34.62 L49.20,39.18 L25.51,41.00 L22.78,36.45 L10.48,36.45 L9.57,46.01 Z" fill="#7a7a7c"/><polygon points="7.29,47.38 23.69,52.39 24.15,84.28 9.11,77.45" fill="#666668"/><polygon points="31.89,54.67 51.94,55.13 51.94,85.19 31.89,85.42" fill="#8b8b8d"/><polygon points="59.23,53.76 71.07,46.47 70.16,75.17 59.23,82.00" fill="#858587"/><polygon points="10.48,36.90 22.78,36.45 24.60,45.56 11.39,46.01" fill="#6c6c6e"/><polygon points="51.03,35.08 64.24,35.99 64.69,47.84 52.39,50.11" fill="#5d5d5f"/><ellipse cx="39.64" cy="43.74" rx="13.67" ry="6.38" fill="#6e6e70"/><ellipse cx="39.64" cy="42.37" rx="10.02" ry="4.10" fill="#5a5a5c"/><rect x="30.30" y="13.21" width="17.54" height="29.16" fill="#d6d6d6"/><rect x="41.00" y="13.21" width="6.83" height="29.16" fill="#c4c4c4"/><ellipse cx="39.04" cy="13.21" rx="8.75" ry="2.28" fill="#e6e6e6"/></g>
<polyline points="135,174.5 1130.5,174.5 1252,271" fill="none" stroke="#000" stroke-width="3.1" stroke-linejoin="miter"/>
<polyline points="135,428.5 840,428.5 1039,401.8" fill="none" stroke="#000" stroke-width="3.1" stroke-linejoin="miter"/>
<polyline points="2210,229.5 1759.5,229.5 1723,343.5" fill="none" stroke="#000" stroke-width="3.1" stroke-linejoin="miter"/>
<polyline points="95,1320.5 569.8,1320.5" fill="none" stroke="#000" stroke-width="3.1" stroke-linejoin="miter"/>
<polyline points="95,2086.5 532.5,2086.5 595.5,2252" fill="none" stroke="#000" stroke-width="3.1" stroke-linejoin="miter"/>
<polyline points="95,2443 402.1,2443 317.5,2555.8" fill="none" stroke="#000" stroke-width="3.5" stroke-linejoin="miter"/>
<circle cx="143.75" cy="122" r="53.5" fill="#000"/><path d="M146.3,99.96 L155.0,99.96 L155.0,129.9 L164.0,129.9 L164.0,135.8 L155.0,135.8 L155.0,144.0 L161.0,144.0 L161.0,150.0 L143.1,150.0 L143.1,144.0 L147.9,144.0 L147.9,135.8 L125.1,135.8 L125.1,129.9 L126,127.9 Z M133.9,129.9 L147.9,129.9 L147.9,107.9 L147.1,107.9 L133.9,128.3 Z" fill="#fff" fill-rule="evenodd"/>
<circle cx="143.5" cy="375.6" r="53.4" fill="#000"/><text x="143.5" y="403.40" font-size="73" fill="#fff" stroke="#fff" stroke-width="0.8" text-anchor="middle">5</text>
<circle cx="2216.2" cy="178.5" r="53.6" fill="#000"/><text x="2216.2" y="206.30" font-size="73" fill="#fff" stroke="#fff" stroke-width="0.8" text-anchor="middle">6</text>
<circle cx="99.4" cy="1269.2" r="53.4" fill="#000"/><text x="99.4" y="1297.00" font-size="73" fill="#fff" stroke="#fff" stroke-width="0.8" text-anchor="middle">3</text>
<circle cx="99.4" cy="2035.1" r="53.3" fill="#000"/><text x="99.4" y="2062.90" font-size="73" fill="#fff" stroke="#fff" stroke-width="0.8" text-anchor="middle">2</text>
<circle cx="99.4" cy="2391.8" r="53.5" fill="#000"/><path d="M85.3,2384.9 L81.9,2379.3 L98.1,2369 L105.1,2369 L105.1,2412.8 L115,2412.8 L115,2419 L86.9,2419 L86.9,2412.8 L96.9,2412.8 L96.9,2376.9 Z" fill="#fff" fill-rule="evenodd"/>
<circle cx="1869.5" cy="1158.3" r="37.4" fill="#000"/><path d="M1857.8,1142.9 L1881.1,1142.9 L1881.1,1146.8 L1864.7,1177 L1858.8,1177 L1875,1147 L1857.8,1147 Z" fill="#fff" fill-rule="evenodd"/>
<text x="226.47" y="96.25" font-size="44.5" textLength="851.29" lengthAdjust="spacingAndGlyphs" fill="#000" class="t">Doppelmuffe so am Stativstab verschrauben,</text>
<text x="226.74" y="148.75" font-size="44.5" textLength="611.27" lengthAdjust="spacingAndGlyphs" fill="#000" class="t">dass der Schlitz nach vorne zeigt</text>
<text x="227.49" y="343.70" font-size="44.5" textLength="535.02" lengthAdjust="spacingAndGlyphs" fill="#000" class="t">Stativstab waagerecht in der</text>
<text x="225.96" y="395.70" font-size="44.5" textLength="528.60" lengthAdjust="spacingAndGlyphs" fill="#000" class="t">Doppelmuffe festschrauben</text>
<text x="1790.95" y="140.10" font-size="44.5" textLength="362.58" lengthAdjust="spacingAndGlyphs" fill="#000" class="t">Kraftmesser an den</text>
<text x="1791.95" y="192.70" font-size="44.5" textLength="340.59" lengthAdjust="spacingAndGlyphs" fill="#000" class="t">Stativstab hängen</text>
<text x="186.48" y="1124.40" font-size="44.5" textLength="353.53" lengthAdjust="spacingAndGlyphs" fill="#000" class="t">Stativstäbe mitein-</text>
<text x="185.48" y="1177.00" font-size="44.5" textLength="376.53" lengthAdjust="spacingAndGlyphs" fill="#000" class="t">ander verschrauben</text>
<text x="184.47" y="1230.00" font-size="44.5" textLength="359.54" lengthAdjust="spacingAndGlyphs" fill="#000" class="t">und im Klemmrohr</text>
<text x="184.42" y="1282.60" font-size="44.5" textLength="199.64" lengthAdjust="spacingAndGlyphs" fill="#000" class="t">befestigen</text>
<text x="181.43" y="1938.90" font-size="44.5" textLength="331.11" lengthAdjust="spacingAndGlyphs" fill="#000" class="t">Klemmrohr in die</text>
<text x="181.44" y="1991.50" font-size="44.5" textLength="362.09" lengthAdjust="spacingAndGlyphs" fill="#000" class="t">Bohrung der Profil-</text>
<text x="182.48" y="2044.50" font-size="44.5" textLength="350.53" lengthAdjust="spacingAndGlyphs" fill="#000" class="t">schiene schrauben</text>
<text x="179.47" y="2308.10" font-size="44.5" textLength="374.57" lengthAdjust="spacingAndGlyphs" fill="#000" class="t">Schienenfüße in die</text>
<text x="178.46" y="2361.50" font-size="44.5" textLength="354.58" lengthAdjust="spacingAndGlyphs" fill="#000" class="t">kurze Profilschiene</text>
<text x="180.47" y="2414.50" font-size="44.5" textLength="142.60" lengthAdjust="spacingAndGlyphs" fill="#000" class="t">stecken</text>
<text x="1862.95" y="756.10" font-size="44.5" textLength="365.07" lengthAdjust="spacingAndGlyphs" fill="#000" class="t">Die beiden Schnur-</text>
<text x="1863.98" y="808.60" font-size="44.5" textLength="500.53" lengthAdjust="spacingAndGlyphs" fill="#000" class="t">abschnitte müssen parallel</text>
<text x="1863.97" y="861.30" font-size="44.5" textLength="398.05" lengthAdjust="spacingAndGlyphs" fill="#000" class="t">zueinander verlaufen</text>
<text x="1941.48" y="1194.10" font-size="44.5" textLength="399.05" lengthAdjust="spacingAndGlyphs" fill="#000" class="t">a. Schnur (ca. 60 cm)</text>
<text x="1833.48" y="1248.10" font-size="44.5" textLength="530.52" lengthAdjust="spacingAndGlyphs" fill="#000" class="t">an den Enden mit Schlaufen</text>
<text x="1833.99" y="1301.10" font-size="44.5" textLength="169.56" lengthAdjust="spacingAndGlyphs" fill="#000" class="t">versehen</text>
<text x="1833.98" y="1395.80" font-size="44.5" textLength="523.54" lengthAdjust="spacingAndGlyphs" fill="#000" class="t">b. Ein Schnurende über den</text>
<text x="1834.98" y="1449.10" font-size="44.5" textLength="548.03" lengthAdjust="spacingAndGlyphs" fill="#000" class="t">Stativstab führen, das andere</text>
<text x="1833.98" y="1502.10" font-size="44.5" textLength="437.53" lengthAdjust="spacingAndGlyphs" fill="#000" class="t">in den Haken des Kraft-</text>
<text x="1832.94" y="1553.30" font-size="44.5" textLength="304.11" lengthAdjust="spacingAndGlyphs" fill="#000" class="t">messers hängen</text>
<text x="1833.49" y="1651.20" font-size="44.5" textLength="527.50" lengthAdjust="spacingAndGlyphs" fill="#000" class="t">c. &#160;Die Schnur über die Rolle</text>
<text x="1832.48" y="1703.50" font-size="44.5" textLength="489.51" lengthAdjust="spacingAndGlyphs" fill="#000" class="t">mit Haken führen und mit</text>
<text x="1833.48" y="1756.20" font-size="44.5" textLength="459.03" lengthAdjust="spacingAndGlyphs" fill="#000" class="t">den Gewichten belasten</text>
<text x="1396.46" y="2601.30" font-size="51.5" textLength="801.55" lengthAdjust="spacingAndGlyphs" fill="#000" class="t">Bei den Auswertungen ist das Eigen-</text>
<text x="1398.49" y="2662.00" font-size="51.5" textLength="864.53" lengthAdjust="spacingAndGlyphs" fill="#000" class="t">gewicht der Rolle mit Haken zu berück-</text>
<text x="1399.50" y="2723.00" font-size="51.5" textLength="865.52" lengthAdjust="spacingAndGlyphs" fill="#000" class="t">sichtigen oder durch eine Korrektur der</text>
<text x="1396.47" y="2784.20" font-size="51.5" textLength="839.54" lengthAdjust="spacingAndGlyphs" fill="#000" class="t">Nullpunkt-Einstellung am Kraftmesser</text>
<text x="1400.50" y="2845.00" font-size="51.5" textLength="772.52" lengthAdjust="spacingAndGlyphs" fill="#000" class="t">vor der Messung zu kompensieren.</text>
</svg></body></html>
